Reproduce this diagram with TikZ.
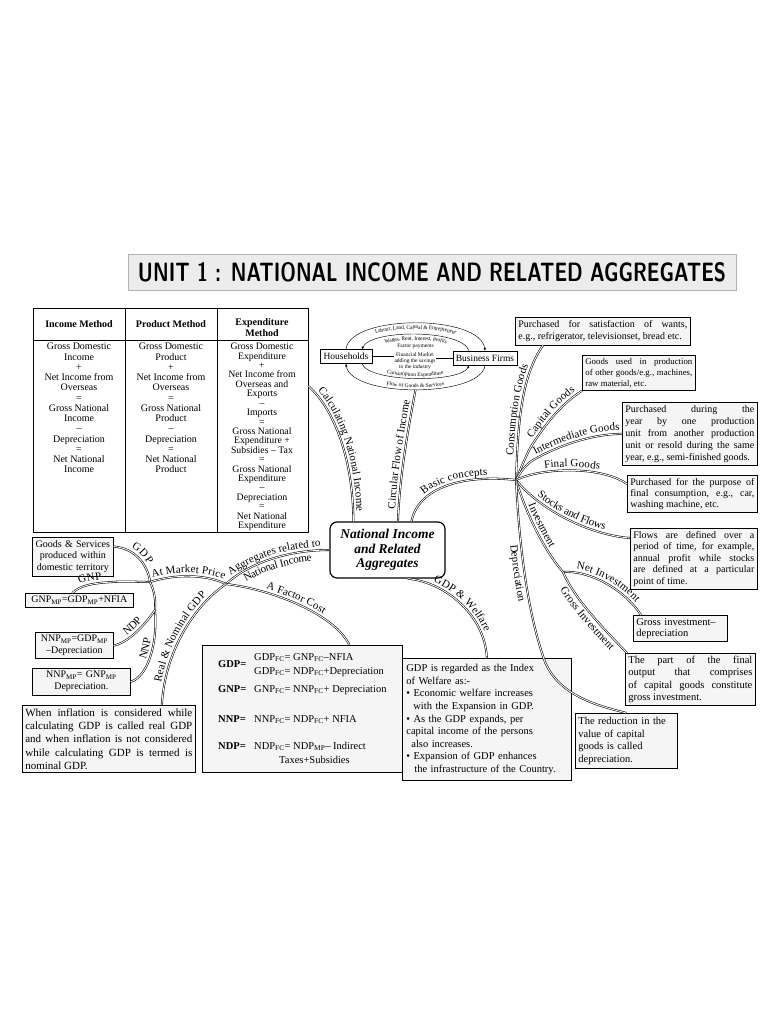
\documentclass[tikz,border=0pt]{standalone}
\usepackage{fontspec}
\setmainfont{Liberation Serif}
\usetikzlibrary{arrows.meta, positioning, calc, decorations.text}

% size helper: font size, baseline skip
\newcommand{\boxsize}[2]{\fontsize{#1}{#2}\selectfont}

\begin{document}
\begin{tikzpicture}[
    x=1pt, y=-1pt,
    infobox/.style={draw, line width=0.7pt, fill=gray!8, inner sep=3pt, anchor=north west, align=justify}, % text boxes
    leftbox/.style={infobox, align=center},                                  % centred boxes
    branch/.style={double, double distance=0.9pt, line width=0.55pt},       % mind map limbs
    limb/.style={branch, postaction={decorate, decoration={text along path, text align=center,
        raise=3.5pt, text={|\boxsize{11}{12}|#1}}}},                         % limb, label on the left side
    limbb/.style={branch, postaction={decorate, decoration={text along path, text align=center,
        raise=-10.5pt, text={|\boxsize{11}{12}|#1}}}},                       % limb, label on the right side
    flowbox/.style={draw, line width=0.6pt, fill=white, inner sep=1pt, minimum height=14pt, font=\boxsize{9.5}{10}},
    flowarc/.style={-{Stealth[length=3pt, width=2.5pt]}, line width=0.45pt},
    flowtxt/.style={font=\boxsize{5.5}{6}, inner sep=0pt},
    >=Stealth
]

\useasboundingbox (0,0) rectangle (768,1024);

% --- TITLE ---
\node[draw=gray!60, fill=gray!15, minimum width=608pt, minimum height=36pt, inner sep=0pt] (title) at (432,272)
    {\resizebox{588pt}{19pt}{\sffamily\bfseries UNIT 1 : NATIONAL INCOME AND RELATED AGGREGATES}};

% --- METHODS TABLE ---
\node[draw, line width=0.8pt, minimum width=275pt, minimum height=224pt, inner sep=0pt] (tbl) at (170.5,420) {};
\draw[line width=0.6pt] (125,308) -- (125,532);
\draw[line width=0.6pt] (217,308) -- (217,532);
\draw[line width=0.6pt] (33,340) -- (308,340);

\node[font=\boxsize{10}{11}\bfseries] (hInc) at (79,324) {Income Method};
\node[font=\boxsize{10}{11}\bfseries] (hPro) at (171,324) {Product Method};
\node[font=\boxsize{10}{11}\bfseries, align=center] (hExp) at (262,328) {Expenditure\\Method};

\node[anchor=north, inner sep=0pt, align=center, font=\boxsize{10}{10.25}] (bInc) at (79,343)
    {Gross Domestic\\Income\\+\\Net Income from\\Overseas\\=\\Gross National\\Income\\--\\Depreciation\\=\\Net National\\Income};
\node[anchor=north, inner sep=0pt, align=center, font=\boxsize{10}{10.25}] (bPro) at (171,343)
    {Gross Domestic\\Product\\+\\Net Income from\\Overseas\\=\\Gross National\\Product\\--\\Depreciation\\=\\Net National\\Product};
\node[anchor=north, inner sep=0pt, align=center, font=\boxsize{9.8}{9.42}] (bExp) at (262,343)
    {Gross Domestic\\Expenditure\\+\\Net Income from\\Overseas and\\Exports\\--\\Imports\\=\\Gross National\\Expenditure +\\Subsidies -- Tax\\=\\Gross National\\Expenditure\\--\\Depreciation\\=\\Net National\\Expenditure};

% --- CIRCULAR FLOW ---
\node[flowbox, minimum width=52pt] (hh) at (346,356.5) {Households};
\node[flowbox, minimum width=64pt] (bf) at (485,358) {Business Firms};
\node[flowtxt, align=center] (fin) at (415,361) {Financial Market\\adding the savings\\to the industry};
\draw[line width=0.4pt] (hh.east) -- (hh.east -| fin.west);
\draw[line width=0.4pt] (bf.west) -- (bf.west -| fin.east);

\draw[flowarc] (hh.north) .. controls (350,314) and (481,314) .. (bf.north);
\path[decorate, decoration={text along path, text align=center, raise=-6pt,
    text={|\boxsize{5.5}{6}|Labour, Land, Capital {\&} Entrepreneur}}]
    (hh.north) .. controls (350,314) and (481,314) .. (bf.north);

\draw[flowarc] ([xshift=-16pt]bf.north) .. controls (462,329) and (370,329) .. ([xshift=16pt]hh.north);
\path[decorate, decoration={text along path, text align=center, raise=-6pt,
    text={|\boxsize{5.5}{6}|Wages, Rent, Interest, Profits}}]
    ([xshift=16pt]hh.north) .. controls (370,329) and (462,329) .. ([xshift=-16pt]bf.north);
\node[flowtxt] (fpay) at (415.5,346) {Factor payments};

\draw[flowarc] ([xshift=16pt]hh.south) .. controls (370,383) and (462,383) .. ([xshift=-16pt]bf.south);
\path[decorate, decoration={text along path, text align=center, raise=2pt,
    text={|\boxsize{5.5}{6}|Consumption Expenditure}}]
    ([xshift=16pt]hh.south) .. controls (370,383) and (462,383) .. ([xshift=-16pt]bf.south);

\draw[flowarc] (bf.south) .. controls (481,398) and (350,398) .. (hh.south) coordinate[midway] (cfBot);
\path[decorate, decoration={text along path, text align=center, raise=2pt,
    text={|\boxsize{5.5}{6}|Flow of Goods {\&} Services}}]
    (hh.south) .. controls (350,398) and (481,398) .. (bf.south);

% --- CENTRE ---
\node[draw, line width=1.2pt, rounded corners=7pt, minimum width=115pt, minimum height=56pt, align=center,
      font=\boxsize{13.5}{14.5}\bfseries\itshape] (cen) at (387.5,550) {National Income\\and Related\\Aggregates};

% --- RIGHT BOXES ---
\node[infobox, text width=169pt, font={\boxsize{10}{12.5}}] (box1) at (515,317)
    {Purchased for satisfaction of wants,\linebreak e.g., refrigerator, televisionset, bread etc.};
\node[infobox, text width=107pt, font={\boxsize{8.8}{10.8}}] (box2) at (582,355)
    {Goods used in production\linebreak of other goods/e.g., machines,\linebreak raw material, etc.};
\node[infobox, text width=129pt, font={\boxsize{10}{12}}] (box3) at (622,402)
    {Purchased during the\linebreak year by one production\linebreak unit from another production\linebreak unit or resold during the same\linebreak year, e.g., semi-finished goods.};
\node[infobox, text width=124pt, font={\boxsize{10}{11}}] (box4) at (627,475)
    {Purchased for the purpose of\linebreak final consumption, e.g., car,\linebreak washing machine, etc.};
\node[infobox, text width=121pt, font={\boxsize{10}{11.5}}] (box5) at (630,528)
    {Flows are defined over a\linebreak period of time, for example,\linebreak annual profit while stocks\linebreak are defined at a particular\linebreak point of time.};
\node[infobox, align=left, text width=88pt, font={\boxsize{10.5}{11}}] (box6) at (633,615)
    {Gross investment--\\depreciation};
\node[infobox, text width=124pt, font={\boxsize{10.5}{12.2}}] (box7) at (625,653)
    {The part of the final\linebreak output that comprises\linebreak of capital goods constitute\linebreak gross investment.};
\node[infobox, align=left, text width=96pt, inner ysep=4pt, font={\boxsize{10.5}{12.5}}] (box8) at (575,713)
    {The reduction in the\\value of capital\\goods is called\\depreciation.};

% --- BOTTOM BOXES ---
\node[infobox, align=left, text width=161pt, inner xsep=4pt, inner ysep=6pt, font={\boxsize{10.5}{12.6}}] (wel) at (402,658)
    {GDP is regarded as the Index\\of Welfare as:-\\\textbullet\ Economic welfare increases\\\hspace*{7pt}with the Expansion in GDP.\\\textbullet\ As the GDP expands, per\\capital income of the persons\\\hspace*{5pt}also increases.\\\textbullet\ Expansion of GDP enhances\\\hspace*{8pt}the infrastructure of the Country.};

\node[infobox, minimum width=200pt, minimum height=127pt, inner sep=4pt, align=left, font={\boxsize{10.5}{14}}] (fbox) at (202,645)
    {\begin{tabular}{@{}p{36pt}@{}l@{}}
     \raisebox{-7pt}[0pt][0pt]{\bfseries GDP=} & GDP\textsubscript{FC}= GNP\textsubscript{FC}--NFIA\\
      & GDP\textsubscript{FC}= NDP\textsubscript{FC}+Depreciation\\[4pt]
     \bfseries GNP= & GNP\textsubscript{FC}= NNP\textsubscript{FC}+ Depreciation\\[16pt]
     \bfseries NNP= & NNP\textsubscript{FC}= NDP\textsubscript{FC}+ NFIA\\[13pt]
     \bfseries NDP= & NDP\textsubscript{FC}= NDP\textsubscript{MP}-- Indirect\\
      & \hspace*{25pt}Taxes+Subsidies
     \end{tabular}};

% --- LEFT BOXES ---
\node[leftbox, text width=75pt, font={\boxsize{10}{11.7}}] (gs) at (32,537) {Goods \& Services\\produced within\\domestic territory};
\node[leftbox, text width=102pt, font={\boxsize{10}{12}}] (gnp) at (25,593) {GNP\textsubscript{MP}=GDP\textsubscript{MP}+NFIA};
\node[leftbox, text width=72pt, font={\boxsize{10}{11.5}}] (nnp1) at (35,632) {NNP\textsubscript{MP}=GDP\textsubscript{MP}\\--Depreciation};
\node[leftbox, text width=92pt, font={\boxsize{10}{12}}] (nnp2) at (32,668) {NNP\textsubscript{MP}= GNP\textsubscript{MP}\\Depreciation.};
\node[infobox, text width=167pt, font={\boxsize{11}{13.3}}] (infl) at (22,705)
    {When inflation is considered while\linebreak calculating GDP is called real GDP\linebreak and when inflation is not considered\linebreak while calculating GDP is termed is\linebreak nominal GDP.};

% --- JOINTS ---
\coordinate (hub) at (516,480);
\coordinate (capJ) at (532,445);
\coordinate (intJ) at (535,459);
\coordinate (inv) at (563,572);
\coordinate (depJ) at (545,662);
\coordinate (aggS) at (226,584);
\coordinate (hub2) at (150,582);
\coordinate (gnpJ) at (112,582);
\coordinate (ndpJ) at (155,610);

% --- LIMBS FROM THE CENTRE ---
\draw[limb={Calculating National Income}] ([yshift=34pt]tbl.east) .. controls (335,410) and (353,460) .. (cen.140);
\draw[limb={Circular Flow of Income}] (cen.70) .. controls (400,470) and (410,420) .. (cfBot);
\draw[limb={Basic concepts}] (cen.50) .. controls (418,488) and (462,474) .. (hub);
\draw[limb={GDP {\&} Welfare}] (cen.-55) .. controls (445,582) and (485,615) .. (wel.north);
\draw[limb={Aggregates related to}, limbb={National Income}] (aggS) .. controls (250,562) and (290,550) .. (cen.west);

% --- BASIC CONCEPTS ---
\draw[limb={Consumption Goods}] (hub) .. controls (518,420) and (522,375) .. ([xshift=28pt]box1.south west);
\draw[branch] (hub) .. controls (522,466) and (526,455) .. (capJ);
\draw[limb={Capital Goods}] (capJ) .. controls (545,425) and (560,405) .. (box2.south west);
\draw[branch] (hub) .. controls (521,471) and (527,463) .. (intJ);
\draw[limb={Intermediate Goods}] (intJ) .. controls (556,447) and (590,434) .. (box3.west);
\draw[limb={Final Goods}] (hub) .. controls (540,468) and (600,465) .. ([yshift=10pt]box4.west);
\draw[limb={Stocks and Flows}] (hub) .. controls (540,510) and (590,535) .. ([yshift=-10pt]box5.north west);
\draw[limb={Investment}] (hub) .. controls (528,520) and (548,555) .. (inv);
\draw[limb={Net Investment}] (inv) .. controls (590,570) and (625,590) .. ([xshift=8pt]box6.north west);
\draw[limbb={Gross Investment}] (inv) .. controls (575,600) and (605,630) .. ([xshift=2pt]box7.north west);
\draw[limbb={Depreciation}] (hub) .. controls (520,560) and (530,620) .. (depJ);
\draw[branch] (depJ) .. controls (560,697) and (600,706) .. (box8.north);

% --- AGGREGATES ---
\draw[limb={At Market Price}] (hub2) .. controls (175,574) and (205,574) .. (aggS);
\draw[limb={A Factor Cost}] (aggS) .. controls (275,590) and (335,615) .. ([xshift=47pt]fbox.north);
\draw[limb={Real {\&} Nominal GDP}] ([xshift=53pt]infl.north) .. controls (165,650) and (195,605) .. (aggS);

\draw[limb={GDP}] ([yshift=10pt]gs.east) .. controls (135,548) and (148,565) .. (hub2);
\draw[branch] (hub2) .. controls (154,590) and (156,600) .. (ndpJ);
\draw[limb={NNP}] (nnp2.east) .. controls (145,678) and (158,650) .. (ndpJ);
\draw[limb={NDP}] (nnp1.east) .. controls (128,643) and (145,625) .. (ndpJ);
\draw[limb={GNP}] ([xshift=-7pt]gnp.north) .. controls (80,585) and (95,583) .. (gnpJ);
\draw[branch] (gnpJ) .. controls (125,581) and (140,582) .. (hub2);

\end{tikzpicture}
\end{document}
